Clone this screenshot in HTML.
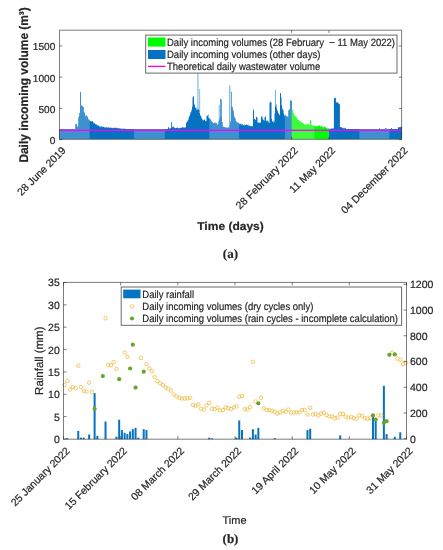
<!DOCTYPE html>
<html lang="en"><head><meta charset="utf-8"><title>Figure</title>
<style>html,body{margin:0;padding:0;background:#fff;}svg{display:block;}text{font-family:"Liberation Sans", Arial, Helvetica, sans-serif;fill:#262626;stroke:#262626;stroke-width:0.2px;text-rendering:geometricPrecision;}</style>
</head><body>
<svg width="443" height="550" viewBox="0 0 443 550">
<rect width="443" height="550" fill="#ffffff"/>
<g shape-rendering="auto">
<path d="M59.50 139.10V129.00 H60.00V129.00 H60.50V129.00 H61.00V129.00 H61.50V129.00 H62.00V129.00 H62.50V129.00 H63.00V129.00 H63.50V129.00 H64.00V129.00 H64.50V129.00 H65.00V129.00 H65.50V129.00 H66.00V129.00 H66.50V129.00 H67.00V129.00 H67.50V129.00 H68.00V129.00 H68.50V129.00 H69.00V129.00 H69.50V129.00 H70.00V129.00 H70.50V129.00 H71.00V129.00 H71.50V129.00 H72.00V129.00 H72.50V129.00 H73.00V129.00 H73.50V129.00 H74.00V129.00 H74.50V129.00 H75.00V129.00 H75.50V124.11 H76.00V123.73 H76.50V124.83 H77.00V126.45 H77.50V127.05 H78.00V126.83 H78.50V117.50 H79.00V116.30 H79.50V113.08 H80.00V92.85 H80.50V92.05 H81.00V105.45 H81.50V106.02 H82.00V106.74 H82.50V105.99 H83.00V107.12 H83.50V112.36 H84.00V113.23 H84.50V112.59 H85.00V115.39 H85.50V117.04 H86.00V115.37 H86.50V117.54 H87.00V116.67 H87.50V116.73 H88.00V119.22 H88.50V119.83 H89.00V121.14 H89.50V119.93 H90.00V121.01 H90.50V121.34 H91.00V121.09 H91.50V121.81 H92.00V121.07 H92.50V121.40 H93.00V122.05 H93.50V123.43 H94.00V123.21 H94.50V123.29 H95.00V124.21 H95.50V124.16 H96.00V124.07 H96.50V125.37 H97.00V125.39 H97.50V124.74 H98.00V125.61 H98.50V125.76 H99.00V126.58 H99.50V126.56 H100.00V126.12 H100.50V127.35 H101.00V126.31 H101.50V126.76 H102.00V127.25 H102.50V126.50 H103.00V126.98 H103.50V126.45 H104.00V127.29 H104.50V127.45 H105.00V127.25 H105.50V127.66 H106.00V127.03 H106.50V127.52 H107.00V127.45 H107.50V127.47 H108.00V127.37 H108.50V127.84 H109.00V127.99 H109.50V127.52 H110.00V127.76 H110.50V127.17 H111.00V127.88 H111.50V127.87 H112.00V128.25 H112.50V128.12 H113.00V127.63 H113.50V127.77 H114.00V128.09 H114.50V127.53 H115.00V127.98 H115.50V127.75 H116.00V127.76 H116.50V127.75 H117.00V128.41 H117.50V127.91 H118.00V128.06 H118.50V128.22 H119.00V128.64 H119.50V128.06 H120.00V128.39 H120.50V128.51 H121.00V128.79 H121.50V128.79 H122.00V128.85 H122.50V128.49 H123.00V128.63 H123.50V128.73 H124.00V128.77 H124.50V128.81 H125.00V128.85 H125.50V128.89 H126.00V128.94 H126.50V128.98 H127.00V129.00 H127.50V129.00 H128.00V129.00 H128.50V129.00 H129.00V129.00 H129.50V129.00 H130.00V129.00 H130.50V129.00 H131.00V129.00 H131.50V129.00 H132.00V129.00 H132.50V129.00 H133.00V129.00 H133.50V129.00 H134.00V129.00 H134.50V129.00 H135.00V129.00 H135.50V129.00 H136.00V129.00 H136.50V129.00 H137.00V129.00 H137.50V129.00 H138.00V129.00 H138.50V129.00 H139.00V129.00 H139.50V129.00 H140.00V129.00 H140.50V129.00 H141.00V129.00 H141.50V129.00 H142.00V129.00 H142.50V129.00 H143.00V129.00 H143.50V129.00 H144.00V129.00 H144.50V129.00 H145.00V129.00 H145.50V129.00 H146.00V129.00 H146.50V129.00 H147.00V129.00 H147.50V129.00 H148.00V129.00 H148.50V129.00 H149.00V129.00 H149.50V129.00 H150.00V129.00 H150.50V129.00 H151.00V129.00 H151.50V129.00 H152.00V129.00 H152.50V129.00 H153.00V129.00 H153.50V129.00 H154.00V129.00 H154.50V129.00 H155.00V129.00 H155.50V129.00 H156.00V129.00 H156.50V129.00 H157.00V129.00 H157.50V129.00 H158.00V129.00 H158.50V129.00 H159.00V129.00 H159.50V129.00 H160.00V129.00 H160.50V129.00 H161.00V129.00 H161.50V129.00 H162.00V129.00 H162.50V129.00 H163.00V129.00 H163.50V129.00 H164.00V129.00 H164.50V129.00 H165.00V129.00 H165.50V129.00 H166.00V129.00 H166.50V129.00 H167.00V129.00 H167.50V129.00 H168.00V126.82 H168.50V127.49 H169.00V128.75 H169.50V128.13 H170.00V128.15 H170.50V128.19 H171.00V121.91 H171.50V122.47 H172.00V127.11 H172.50V126.70 H173.00V126.36 H173.50V127.31 H174.00V127.67 H174.50V127.87 H175.00V128.25 H175.50V127.99 H176.00V127.82 H176.50V127.92 H177.00V127.97 H177.50V127.36 H178.00V128.20 H178.50V128.08 H179.00V128.17 H179.50V128.09 H180.00V127.69 H180.50V127.70 H181.00V127.41 H181.50V127.93 H182.00V127.37 H182.50V127.37 H183.00V127.51 H183.50V127.47 H184.00V127.64 H184.50V127.36 H185.00V127.31 H185.50V127.45 H186.00V122.82 H186.50V122.40 H187.00V120.66 H187.50V121.52 H188.00V119.95 H188.50V117.64 H189.00V116.55 H189.50V115.44 H190.00V114.16 H190.50V111.96 H191.00V111.53 H191.50V109.82 H192.00V106.63 H192.50V97.46 H193.00V96.59 H193.50V96.62 H194.00V103.73 H194.50V105.13 H195.00V107.94 H195.50V107.46 H196.00V107.58 H196.50V110.03 H197.00V109.52 H197.50V108.84 H198.00V109.83 H198.50V108.82 H199.00V110.05 H199.50V112.95 H200.00V114.76 H200.50V116.00 H201.00V116.66 H201.50V118.50 H202.00V118.91 H202.50V120.33 H203.00V119.89 H203.50V120.53 H204.00V119.63 H204.50V119.48 H205.00V120.86 H205.50V121.33 H206.00V121.13 H206.50V115.67 H207.00V115.70 H207.50V115.53 H208.00V114.40 H208.50V118.11 H209.00V118.47 H209.50V118.46 H210.00V119.18 H210.50V120.44 H211.00V120.70 H211.50V121.91 H212.00V122.75 H212.50V121.89 H213.00V123.22 H213.50V123.59 H214.00V123.77 H214.50V122.73 H215.00V122.67 H215.50V122.94 H216.00V123.13 H216.50V123.41 H217.00V124.59 H217.50V125.44 H218.00V124.46 H218.50V121.70 H219.00V120.11 H219.50V118.66 H220.00V117.09 H220.50V98.85 H221.00V99.40 H221.50V116.22 H222.00V122.15 H222.50V126.98 H223.00V126.69 H223.50V127.52 H224.00V127.05 H224.50V127.68 H225.00V127.94 H225.50V127.37 H226.00V127.46 H226.50V128.11 H227.00V127.95 H227.50V127.48 H228.00V127.52 H228.50V127.64 H229.00V127.38 H229.50V125.17 H230.00V121.39 H230.50V121.72 H231.00V107.21 H231.50V91.65 H232.00V106.84 H232.50V109.51 H233.00V110.83 H233.50V112.81 H234.00V116.79 H234.50V117.58 H235.00V118.81 H235.50V121.20 H236.00V121.60 H236.50V123.06 H237.00V123.34 H237.50V122.36 H238.00V122.83 H238.50V123.30 H239.00V123.54 H239.50V124.36 H240.00V123.70 H240.50V124.11 H241.00V123.54 H241.50V125.32 H242.00V124.15 H242.50V124.45 H243.00V124.78 H243.50V125.53 H244.00V124.55 H244.50V125.66 H245.00V124.85 H245.50V124.98 H246.00V125.07 H246.50V124.19 H247.00V125.14 H247.50V124.77 H248.00V124.57 H248.50V126.13 H249.00V125.13 H249.50V125.77 H250.00V126.31 H250.50V126.14 H251.00V125.88 H251.50V126.30 H252.00V126.47 H252.50V125.85 H253.00V109.13 H253.50V110.13 H254.00V118.95 H254.50V119.01 H255.00V120.10 H255.50V119.52 H256.00V116.84 H256.50V117.27 H257.00V117.61 H257.50V122.38 H258.00V122.75 H258.50V122.51 H259.00V122.53 H259.50V122.92 H260.00V122.40 H260.50V122.57 H261.00V115.95 H261.50V116.97 H262.00V116.44 H262.50V119.29 H263.00V120.16 H263.50V119.38 H264.00V120.77 H264.50V117.48 H265.00V117.25 H265.50V115.70 H266.00V120.23 H266.50V121.15 H267.00V120.55 H267.50V121.14 H268.00V120.98 H268.50V122.51 H269.00V122.97 H269.50V102.87 H270.00V101.24 H270.50V102.48 H271.00V102.35 H271.50V119.03 H272.00V121.11 H272.50V121.76 H273.00V120.56 H273.50V122.63 H274.00V121.87 H274.50V113.72 H275.00V106.08 H275.50V105.73 H276.00V104.26 H276.50V108.33 H277.00V110.13 H277.50V111.35 H278.00V112.65 H278.50V113.78 H279.00V115.20 H279.50V114.19 H280.00V93.32 H280.50V93.07 H281.00V97.34 H281.50V105.13 H282.00V107.88 H282.50V109.67 H283.00V110.10 H283.50V113.53 H284.00V114.51 H284.50V116.33 H285.00V115.27 H285.50V115.91 H286.00V115.70 H286.50V117.61 H287.00V116.78 H287.50V116.76 H288.00V117.69 H288.50V110.41 H289.00V110.20 H289.50V108.97 H290.00V99.93 H290.50V101.62 H291.00V100.86 H291.50V101.14 H291.70V139.10 Z" fill="#0672c2"/>
<path d="M291.70 139.10V109.00 H292.20V110.14 H292.70V112.74 H293.20V113.37 H293.70V113.46 H294.20V116.08 H294.70V116.13 H295.20V117.22 H295.70V116.35 H296.20V118.65 H296.70V117.52 H297.20V119.89 H297.70V119.59 H298.20V119.91 H298.70V120.90 H299.20V122.25 H299.70V121.32 H300.20V121.52 H300.70V122.77 H301.20V122.50 H301.70V122.59 H302.20V123.07 H302.70V123.13 H303.20V123.70 H303.70V124.19 H304.20V124.43 H304.70V125.59 H305.20V124.68 H305.70V125.10 H306.20V124.46 H306.70V124.80 H307.20V124.15 H307.70V124.61 H308.20V124.14 H308.70V125.56 H309.20V125.20 H309.70V124.49 H310.20V119.94 H310.70V120.96 H311.20V125.01 H311.70V126.26 H312.20V125.58 H312.70V125.69 H313.20V126.29 H313.70V125.51 H314.20V125.71 H314.70V126.03 H315.20V126.59 H315.70V125.53 H316.20V126.42 H316.70V126.25 H317.20V126.18 H317.70V125.85 H318.20V125.82 H318.70V125.40 H319.20V125.58 H319.70V125.55 H320.20V126.65 H320.70V125.99 H321.20V125.99 H321.70V126.01 H322.20V127.20 H322.70V127.35 H323.20V127.19 H323.70V126.82 H324.20V126.91 H324.70V127.10 H325.20V127.43 H325.70V127.26 H326.20V127.72 H326.70V127.70 H327.20V128.48 H327.70V128.61 H328.20V128.40 H328.70V128.28 H328.90V139.10 Z" fill="#00fc00"/>
<path d="M328.90 139.10V128.78 H329.40V128.75 H329.90V128.72 H330.40V129.00 H330.90V128.53 H331.40V128.53 H331.90V128.25 H332.40V128.48 H332.90V128.52 H333.40V128.51 H333.90V97.94 H334.40V98.61 H334.90V97.51 H335.40V98.08 H335.90V101.85 H336.40V102.75 H336.90V102.18 H337.40V102.36 H337.90V103.19 H338.40V103.25 H338.90V104.25 H339.40V104.34 H339.90V127.14 H340.40V127.01 H340.90V127.09 H341.40V127.31 H341.90V127.90 H342.40V127.84 H342.90V128.44 H343.40V127.68 H343.90V128.21 H344.40V128.13 H344.90V127.58 H345.40V128.31 H345.90V129.10 H346.40V129.10 H346.90V129.10 H347.40V129.10 H347.90V129.10 H348.40V129.10 H348.90V129.10 H349.40V129.10 H349.90V129.10 H350.40V129.10 H350.90V129.10 H351.40V129.10 H351.90V129.10 H352.40V129.10 H352.90V129.10 H353.40V129.10 H353.90V129.10 H354.40V129.10 H354.90V129.10 H355.40V129.10 H355.90V129.10 H356.40V129.10 H356.90V129.10 H357.40V129.10 H357.90V129.10 H358.40V129.10 H358.90V129.10 H359.40V129.10 H359.90V129.10 H360.40V129.10 H360.90V129.10 H361.40V129.10 H361.90V129.10 H362.40V129.10 H362.90V129.10 H363.40V129.10 H363.90V129.10 H364.40V129.10 H364.90V129.10 H365.40V129.10 H365.90V129.10 H366.40V129.10 H366.90V129.10 H367.40V129.10 H367.90V129.10 H368.40V129.10 H368.90V129.10 H369.40V129.10 H369.90V129.10 H370.40V129.10 H370.90V129.10 H371.40V129.10 H371.90V129.10 H372.40V129.10 H372.90V129.10 H373.40V129.10 H373.90V129.10 H374.40V129.10 H374.90V129.10 H375.40V129.10 H375.90V129.10 H376.40V129.10 H376.90V129.10 H377.40V129.10 H377.90V129.10 H378.40V129.10 H378.90V128.70 H379.40V128.50 H379.90V129.10 H380.40V129.10 H380.90V129.10 H381.40V129.10 H381.90V129.10 H382.40V129.10 H382.90V129.10 H383.40V129.10 H383.90V129.10 H384.40V129.10 H384.90V128.40 H385.40V128.46 H385.90V127.90 H386.40V129.10 H386.90V129.10 H387.40V129.10 H387.90V129.10 H388.40V129.10 H388.90V129.10 H389.40V129.10 H389.90V129.10 H390.40V129.10 H390.90V128.02 H391.40V128.00 H391.90V129.10 H392.40V129.10 H392.90V129.10 H393.40V129.10 H393.90V129.10 H394.40V129.10 H394.90V129.10 H395.40V129.10 H395.90V129.10 H396.40V129.10 H396.90V129.10 H397.40V129.10 H397.90V127.40 H398.40V127.31 H398.90V127.28 H399.40V126.90 H399.90V127.27 H400.40V126.92 H400.90V126.88 H401.40V126.15 H401.90V125.82 H402.00V139.10 Z" fill="#0672c2"/>
<path d="M59.50 139.10V129.00 H60.00V129.00 H60.50V129.00 H61.00V129.00 H61.50V129.00 H62.00V129.00 H62.50V129.00 H63.00V129.00 H63.50V129.00 H64.00V129.00 H64.50V129.00 H65.00V129.00 H65.50V129.00 H66.00V129.00 H66.50V129.00 H67.00V129.00 H67.50V129.00 H68.00V129.00 H68.50V129.00 H69.00V129.00 H69.50V129.00 H70.00V129.00 H70.50V129.00 H71.00V129.00 H71.50V129.00 H72.00V129.00 H72.50V129.00 H73.00V129.00 H73.50V129.00 H74.00V129.00 H74.50V129.00 H75.00V129.00 H75.50V124.11 H76.00V123.73 H76.50V124.83 H77.00V126.45 H77.50V127.05 H78.00V126.83 H78.50V117.50 H79.00V116.30 H79.50V113.08 H80.00V92.85 H80.50V92.05 H81.00V105.45 H81.50V106.02 H82.00V106.74 H82.50V105.99 H83.00V107.12 H83.50V112.36 H84.00V113.23 H84.50V112.59 H85.00V115.39 H85.50V117.04 H86.00V115.37 H86.50V117.54 H87.00V116.67 H87.50V116.73 H88.00V119.22 H88.50V119.83 H89.00V121.14 H89.50V119.93 H89.70V139.10 Z" fill="#3d91cf"/>
<path d="M134.10 139.10V129.00 H134.50V129.00 H135.00V129.00 H135.50V129.00 H136.00V129.00 H136.50V129.00 H137.00V129.00 H137.50V129.00 H138.00V129.00 H138.50V129.00 H139.00V129.00 H139.50V129.00 H140.00V129.00 H140.50V129.00 H141.00V129.00 H141.50V129.00 H142.00V129.00 H142.50V129.00 H143.00V129.00 H143.50V129.00 H144.00V129.00 H144.50V129.00 H145.00V129.00 H145.50V129.00 H146.00V129.00 H146.50V129.00 H147.00V129.00 H147.50V129.00 H148.00V129.00 H148.50V129.00 H149.00V129.00 H149.50V129.00 H150.00V129.00 H150.50V129.00 H151.00V129.00 H151.50V129.00 H152.00V129.00 H152.50V129.00 H153.00V129.00 H153.50V129.00 H154.00V129.00 H154.50V129.00 H155.00V129.00 H155.50V129.00 H156.00V129.00 H156.50V129.00 H157.00V129.00 H157.50V129.00 H158.00V129.00 H158.50V129.00 H159.00V129.00 H159.50V129.00 H160.00V129.00 H160.50V129.00 H161.00V129.00 H161.50V129.00 H162.00V129.00 H162.50V129.00 H163.00V129.00 H163.50V129.00 H164.00V129.00 H164.50V129.00 H164.80V139.10 Z" fill="#3d91cf"/>
<path d="M209.30 139.10V118.47 H209.50V118.46 H210.00V119.18 H210.50V120.44 H211.00V120.70 H211.50V121.91 H212.00V122.75 H212.50V121.89 H213.00V123.22 H213.50V123.59 H214.00V123.77 H214.50V122.73 H215.00V122.67 H215.50V122.94 H216.00V123.13 H216.50V123.41 H217.00V124.59 H217.50V125.44 H218.00V124.46 H218.50V121.70 H219.00V120.11 H219.50V118.66 H220.00V117.09 H220.50V98.85 H221.00V99.40 H221.50V116.22 H222.00V122.15 H222.50V126.98 H223.00V126.69 H223.50V127.52 H224.00V127.05 H224.50V127.68 H225.00V127.94 H225.50V127.37 H226.00V127.46 H226.50V128.11 H227.00V127.95 H227.50V127.48 H228.00V127.52 H228.50V127.64 H229.00V127.38 H229.50V125.17 H230.00V121.39 H230.50V121.72 H231.00V107.21 H231.50V91.65 H232.00V106.84 H232.50V109.51 H233.00V110.83 H233.50V112.81 H234.00V116.79 H234.50V117.58 H235.00V118.81 H235.50V121.20 H236.00V121.60 H236.50V123.06 H237.00V123.34 H237.50V122.36 H238.00V122.83 H238.50V123.30 H239.00V123.54 H239.10V139.10 Z" fill="#3d91cf"/>
<path d="M284.90 139.10V116.33 H285.00V115.27 H285.50V115.91 H286.00V115.70 H286.50V117.61 H287.00V116.78 H287.50V116.76 H288.00V117.69 H288.50V110.41 H289.00V110.20 H289.50V108.97 H290.00V99.93 H290.50V101.62 H291.00V100.86 H291.50V101.14 H291.70V139.10 Z" fill="#3d91cf"/>
<path d="M291.70 139.10V109.00 H292.20V110.14 H292.70V112.74 H293.20V113.37 H293.70V113.46 H294.20V116.08 H294.70V116.13 H295.20V117.22 H295.70V116.35 H296.20V118.65 H296.70V117.52 H297.20V119.89 H297.70V119.59 H298.20V119.91 H298.70V120.90 H299.20V122.25 H299.70V121.32 H300.20V121.52 H300.70V122.77 H301.20V122.50 H301.70V122.59 H302.20V123.07 H302.70V123.13 H303.20V123.70 H303.70V124.19 H304.20V124.43 H304.70V125.59 H305.20V124.68 H305.70V125.10 H306.20V124.46 H306.70V124.80 H307.20V124.15 H307.70V124.61 H308.20V124.14 H308.70V125.56 H309.20V125.20 H309.70V124.49 H310.20V119.94 H310.70V120.96 H311.20V125.01 H311.70V126.26 H312.20V125.58 H312.70V125.69 H313.20V126.29 H313.70V125.51 H314.20V125.71 H314.50V139.10 Z" fill="#3dfb3d"/>
<path d="M359.40 139.10V129.10 H359.90V129.10 H360.40V129.10 H360.90V129.10 H361.40V129.10 H361.90V129.10 H362.40V129.10 H362.90V129.10 H363.40V129.10 H363.90V129.10 H364.40V129.10 H364.90V129.10 H365.40V129.10 H365.90V129.10 H366.40V129.10 H366.90V129.10 H367.40V129.10 H367.90V129.10 H368.40V129.10 H368.90V129.10 H369.40V129.10 H369.90V129.10 H370.40V129.10 H370.90V129.10 H371.40V129.10 H371.90V129.10 H372.40V129.10 H372.90V129.10 H373.40V129.10 H373.90V129.10 H374.40V129.10 H374.90V129.10 H375.40V129.10 H375.90V129.10 H376.40V129.10 H376.90V129.10 H377.40V129.10 H377.90V129.10 H378.40V129.10 H378.90V128.70 H379.40V128.50 H379.90V129.10 H380.40V129.10 H380.90V129.10 H381.40V129.10 H381.90V129.10 H382.40V129.10 H382.90V129.10 H383.40V129.10 H383.90V129.10 H384.40V129.10 H384.90V128.40 H385.40V128.46 H385.90V127.90 H386.40V129.10 H386.90V129.10 H387.40V129.10 H387.90V129.10 H388.40V129.10 H388.90V129.10 H389.40V129.10 H389.50V139.10 Z" fill="#3d91cf"/>
<rect x="197.50" y="72.00" width="0.90" height="38.00" fill="#5ba3d6"/>
<rect x="199.40" y="89.00" width="0.70" height="23.00" fill="#5ba3d6"/>
<rect x="218.80" y="105.00" width="0.80" height="15.00" fill="#5ba3d6"/>
<rect x="229.30" y="85.50" width="1.00" height="42.50" fill="#5ba3d6"/>
<rect x="275.20" y="89.80" width="0.80" height="16.20" fill="#5ba3d6"/>
<rect x="171.10" y="122.50" width="0.60" height="5.50" fill="#5ba3d6"/>
</g>
<rect x="59.50" y="129.7" width="342.10" height="1.3" fill="#ff00ff"/>
<g stroke="rgba(38,38,38,0.6)" stroke-width="1" fill="none">
<rect x="59.5" y="30.2" width="342.1" height="109.2"/>
<path d="M59.5 139.60h2.7M401.6 139.60h-2.7"/>
<path d="M59.5 108.38h2.7M401.6 108.38h-2.7"/>
<path d="M59.5 77.15h2.7M401.6 77.15h-2.7"/>
<path d="M59.5 45.92h2.7M401.6 45.92h-2.7"/>
<path d="M291.70 139.5v-2.7M291.70 30.2v2.7"/>
<path d="M329.00 139.5v-2.7M329.00 30.2v2.7"/>
</g>
<text x="55.3" y="144.00" font-size="10.1" text-anchor="end">0</text>
<text x="55.3" y="112.78" font-size="10.1" text-anchor="end">500</text>
<text x="55.3" y="81.55" font-size="10.1" text-anchor="end">1000</text>
<text x="55.3" y="50.32" font-size="10.1" text-anchor="end">1500</text>
<text transform="translate(66.50 151.20) rotate(-45)" font-size="10.5" text-anchor="end">28 June 2019</text>
<text transform="translate(298.70 151.20) rotate(-45)" font-size="10.5" text-anchor="end">28 February 2022</text>
<text transform="translate(336.00 151.20) rotate(-45)" font-size="10.5" text-anchor="end">11 May 2022</text>
<text transform="translate(408.50 151.20) rotate(-45)" font-size="10.5" text-anchor="end">04 December 2022</text>
<text transform="translate(27.7 84.9) rotate(-90) scale(0.952 1)" font-size="12.5" font-weight="bold" stroke="#fff" stroke-width="0.4" text-anchor="middle">Daily incoming volume (m³)</text>
<text transform="translate(230.5 230.0) scale(1.05 1)" font-size="11.45" font-weight="bold" stroke="#fff" stroke-width="0.4" text-anchor="middle">Time (days)</text>
<text x="230.4" y="258.0" font-size="13" font-weight="bold" text-anchor="middle" style="font-family:'Liberation Serif', 'Times New Roman', serif" fill="#000">(a)</text>
<rect x="145.7" y="35.1" width="251.3" height="38.0" fill="#fff" stroke="#6a6a6a" stroke-width="1"/>
<rect x="148.0" y="37.5" width="17.5" height="9.1" fill="#00fc00"/>
<rect x="148.0" y="50.0" width="17.5" height="9.0" fill="#0672c2"/>
<rect x="148.0" y="65.7" width="17.5" height="1.3" fill="#ff00ff"/>
<text transform="translate(167.0 45.70) scale(0.906 1)" font-size="10.5" fill="#000" stroke="#000" xml:space="preserve">Daily incoming volumes (28 February  − 11 May 2022)</text>
<text transform="translate(167.0 57.85) scale(0.906 1)" font-size="10.5" fill="#000" stroke="#000" xml:space="preserve">Daily incoming volumes (other days)</text>
<text transform="translate(167.0 70.00) scale(0.906 1)" font-size="10.5" fill="#000" stroke="#000" xml:space="preserve">Theoretical daily wastewater volume</text>
<rect x="66.32" y="438.11" width="2.0" height="1.09" fill="#0672c2"/>
<rect x="77.24" y="430.95" width="2.0" height="8.25" fill="#0672c2"/>
<rect x="79.97" y="437.66" width="2.0" height="1.54" fill="#0672c2"/>
<rect x="82.69" y="437.66" width="2.0" height="1.54" fill="#0672c2"/>
<rect x="88.15" y="434.53" width="2.0" height="4.67" fill="#0672c2"/>
<rect x="93.61" y="393.17" width="2.0" height="46.03" fill="#0672c2"/>
<rect x="96.34" y="435.87" width="2.0" height="3.33" fill="#0672c2"/>
<rect x="104.53" y="421.56" width="2.0" height="17.64" fill="#0672c2"/>
<rect x="115.44" y="436.76" width="2.0" height="2.44" fill="#0672c2"/>
<rect x="118.17" y="419.77" width="2.0" height="19.43" fill="#0672c2"/>
<rect x="120.90" y="430.06" width="2.0" height="9.14" fill="#0672c2"/>
<rect x="123.63" y="432.74" width="2.0" height="6.46" fill="#0672c2"/>
<rect x="126.36" y="434.08" width="2.0" height="5.12" fill="#0672c2"/>
<rect x="129.09" y="431.40" width="2.0" height="7.80" fill="#0672c2"/>
<rect x="131.82" y="429.16" width="2.0" height="10.04" fill="#0672c2"/>
<rect x="134.55" y="427.82" width="2.0" height="11.38" fill="#0672c2"/>
<rect x="137.27" y="437.66" width="2.0" height="1.54" fill="#0672c2"/>
<rect x="142.73" y="429.16" width="2.0" height="10.04" fill="#0672c2"/>
<rect x="145.46" y="430.06" width="2.0" height="9.14" fill="#0672c2"/>
<rect x="208.23" y="437.66" width="2.0" height="1.54" fill="#0672c2"/>
<rect x="210.96" y="438.33" width="2.0" height="0.87" fill="#0672c2"/>
<rect x="235.52" y="437.66" width="2.0" height="1.54" fill="#0672c2"/>
<rect x="238.25" y="420.44" width="2.0" height="18.76" fill="#0672c2"/>
<rect x="240.98" y="430.06" width="2.0" height="9.14" fill="#0672c2"/>
<rect x="249.16" y="437.66" width="2.0" height="1.54" fill="#0672c2"/>
<rect x="251.89" y="429.16" width="2.0" height="10.04" fill="#0672c2"/>
<rect x="254.62" y="434.53" width="2.0" height="4.67" fill="#0672c2"/>
<rect x="257.35" y="427.82" width="2.0" height="11.38" fill="#0672c2"/>
<rect x="273.72" y="438.11" width="2.0" height="1.09" fill="#0672c2"/>
<rect x="306.47" y="430.06" width="2.0" height="9.14" fill="#0672c2"/>
<rect x="309.20" y="428.72" width="2.0" height="10.48" fill="#0672c2"/>
<rect x="339.22" y="435.42" width="2.0" height="3.78" fill="#0672c2"/>
<rect x="371.97" y="416.64" width="2.0" height="22.56" fill="#0672c2"/>
<rect x="374.70" y="420.67" width="2.0" height="18.53" fill="#0672c2"/>
<rect x="382.88" y="385.79" width="2.0" height="53.41" fill="#0672c2"/>
<rect x="385.61" y="434.08" width="2.0" height="5.12" fill="#0672c2"/>
<rect x="393.80" y="436.76" width="2.0" height="2.44" fill="#0672c2"/>
<rect x="399.26" y="432.29" width="2.0" height="6.91" fill="#0672c2"/>
<g fill="none" stroke="#edb83a" stroke-width="0.75">
<circle cx="64.59" cy="385.00" r="1.75"/>
<circle cx="67.32" cy="380.90" r="1.75"/>
<circle cx="70.05" cy="389.60" r="1.75"/>
<circle cx="72.78" cy="387.00" r="1.75"/>
<circle cx="75.51" cy="388.30" r="1.75"/>
<circle cx="78.24" cy="365.70" r="1.75"/>
<circle cx="80.97" cy="387.00" r="1.75"/>
<circle cx="83.69" cy="390.90" r="1.75"/>
<circle cx="86.42" cy="391.60" r="1.75"/>
<circle cx="89.15" cy="382.70" r="1.75"/>
<circle cx="91.88" cy="392.10" r="1.75"/>
<circle cx="105.53" cy="318.30" r="1.75"/>
<circle cx="108.26" cy="364.90" r="1.75"/>
<circle cx="110.98" cy="365.20" r="1.75"/>
<circle cx="113.71" cy="362.10" r="1.75"/>
<circle cx="116.44" cy="369.00" r="1.75"/>
<circle cx="124.63" cy="352.50" r="1.75"/>
<circle cx="127.36" cy="356.80" r="1.75"/>
<circle cx="141.00" cy="358.00" r="1.75"/>
<circle cx="146.46" cy="364.10" r="1.75"/>
<circle cx="149.19" cy="368.40" r="1.75"/>
<circle cx="151.92" cy="371.30" r="1.75"/>
<circle cx="154.65" cy="377.20" r="1.75"/>
<circle cx="157.38" cy="381.10" r="1.75"/>
<circle cx="160.11" cy="383.30" r="1.75"/>
<circle cx="162.84" cy="385.00" r="1.75"/>
<circle cx="165.56" cy="387.60" r="1.75"/>
<circle cx="168.29" cy="388.70" r="1.75"/>
<circle cx="171.02" cy="390.50" r="1.75"/>
<circle cx="173.75" cy="394.60" r="1.75"/>
<circle cx="176.48" cy="396.40" r="1.75"/>
<circle cx="179.21" cy="397.70" r="1.75"/>
<circle cx="181.94" cy="398.50" r="1.75"/>
<circle cx="184.67" cy="398.50" r="1.75"/>
<circle cx="187.40" cy="398.30" r="1.75"/>
<circle cx="190.13" cy="397.80" r="1.75"/>
<circle cx="192.85" cy="404.90" r="1.75"/>
<circle cx="195.58" cy="405.80" r="1.75"/>
<circle cx="198.31" cy="404.50" r="1.75"/>
<circle cx="201.04" cy="408.70" r="1.75"/>
<circle cx="203.77" cy="409.50" r="1.75"/>
<circle cx="206.50" cy="405.50" r="1.75"/>
<circle cx="209.23" cy="402.70" r="1.75"/>
<circle cx="211.96" cy="408.70" r="1.75"/>
<circle cx="214.69" cy="409.10" r="1.75"/>
<circle cx="217.42" cy="407.60" r="1.75"/>
<circle cx="220.14" cy="410.50" r="1.75"/>
<circle cx="222.87" cy="410.00" r="1.75"/>
<circle cx="225.60" cy="407.30" r="1.75"/>
<circle cx="228.33" cy="408.20" r="1.75"/>
<circle cx="231.06" cy="409.10" r="1.75"/>
<circle cx="233.79" cy="407.30" r="1.75"/>
<circle cx="236.52" cy="406.40" r="1.75"/>
<circle cx="239.25" cy="396.70" r="1.75"/>
<circle cx="241.98" cy="396.00" r="1.75"/>
<circle cx="244.71" cy="409.10" r="1.75"/>
<circle cx="247.43" cy="409.50" r="1.75"/>
<circle cx="250.16" cy="407.10" r="1.75"/>
<circle cx="252.89" cy="361.80" r="1.75"/>
<circle cx="255.62" cy="401.50" r="1.75"/>
<circle cx="261.08" cy="397.80" r="1.75"/>
<circle cx="263.81" cy="408.20" r="1.75"/>
<circle cx="266.54" cy="410.00" r="1.75"/>
<circle cx="269.27" cy="410.00" r="1.75"/>
<circle cx="272.00" cy="410.90" r="1.75"/>
<circle cx="274.72" cy="411.80" r="1.75"/>
<circle cx="277.45" cy="413.60" r="1.75"/>
<circle cx="280.18" cy="412.40" r="1.75"/>
<circle cx="282.91" cy="410.90" r="1.75"/>
<circle cx="285.64" cy="411.80" r="1.75"/>
<circle cx="288.37" cy="409.50" r="1.75"/>
<circle cx="291.10" cy="412.70" r="1.75"/>
<circle cx="293.83" cy="412.40" r="1.75"/>
<circle cx="296.56" cy="412.40" r="1.75"/>
<circle cx="299.29" cy="412.40" r="1.75"/>
<circle cx="302.01" cy="410.00" r="1.75"/>
<circle cx="304.74" cy="410.00" r="1.75"/>
<circle cx="307.47" cy="414.50" r="1.75"/>
<circle cx="310.20" cy="407.80" r="1.75"/>
<circle cx="312.93" cy="414.50" r="1.75"/>
<circle cx="315.66" cy="414.20" r="1.75"/>
<circle cx="318.39" cy="415.50" r="1.75"/>
<circle cx="321.12" cy="413.60" r="1.75"/>
<circle cx="323.85" cy="412.70" r="1.75"/>
<circle cx="326.58" cy="415.20" r="1.75"/>
<circle cx="329.30" cy="416.50" r="1.75"/>
<circle cx="332.03" cy="416.40" r="1.75"/>
<circle cx="334.76" cy="418.30" r="1.75"/>
<circle cx="337.49" cy="417.70" r="1.75"/>
<circle cx="340.22" cy="413.90" r="1.75"/>
<circle cx="342.95" cy="413.90" r="1.75"/>
<circle cx="345.68" cy="416.70" r="1.75"/>
<circle cx="348.41" cy="417.70" r="1.75"/>
<circle cx="351.14" cy="416.70" r="1.75"/>
<circle cx="353.87" cy="418.30" r="1.75"/>
<circle cx="356.59" cy="418.70" r="1.75"/>
<circle cx="359.32" cy="415.40" r="1.75"/>
<circle cx="362.05" cy="415.80" r="1.75"/>
<circle cx="364.78" cy="418.30" r="1.75"/>
<circle cx="367.51" cy="418.70" r="1.75"/>
<circle cx="370.24" cy="417.70" r="1.75"/>
<circle cx="378.43" cy="415.40" r="1.75"/>
<circle cx="381.16" cy="415.40" r="1.75"/>
<circle cx="392.07" cy="352.50" r="1.75"/>
<circle cx="397.53" cy="358.60" r="1.75"/>
<circle cx="400.26" cy="359.80" r="1.75"/>
<circle cx="402.99" cy="364.00" r="1.75"/>
<circle cx="405.72" cy="363.00" r="1.75"/>
</g>
<g fill="#68a52d">
<circle cx="94.61" cy="408.90" r="2.1"/>
<circle cx="102.80" cy="376.10" r="2.1"/>
<circle cx="119.17" cy="379.20" r="2.1"/>
<circle cx="130.09" cy="368.50" r="2.1"/>
<circle cx="132.82" cy="344.70" r="2.1"/>
<circle cx="135.55" cy="387.60" r="2.1"/>
<circle cx="143.73" cy="371.70" r="2.1"/>
<circle cx="258.35" cy="403.30" r="2.1"/>
<circle cx="372.97" cy="415.40" r="2.1"/>
<circle cx="375.70" cy="419.60" r="2.1"/>
<circle cx="383.88" cy="422.90" r="2.1"/>
<circle cx="386.61" cy="421.20" r="2.1"/>
<circle cx="389.34" cy="354.80" r="2.1"/>
<circle cx="394.80" cy="354.40" r="2.1"/>
</g>
<g stroke="rgba(38,38,38,0.6)" stroke-width="1" fill="none">
<rect x="63.5" y="282.4" width="343.0" height="156.8"/>
<path d="M63.5 439.00h3"/>
<path d="M63.5 416.64h3"/>
<path d="M63.5 394.29h3"/>
<path d="M63.5 371.93h3"/>
<path d="M63.5 349.57h3"/>
<path d="M63.5 327.21h3"/>
<path d="M63.5 304.86h3"/>
<path d="M63.5 282.50h3"/>
<path d="M406.5 438.70h-3"/>
<path d="M406.5 412.97h-3"/>
<path d="M406.5 387.24h-3"/>
<path d="M406.5 361.51h-3"/>
<path d="M406.5 335.78h-3"/>
<path d="M406.5 310.05h-3"/>
<path d="M406.5 284.32h-3"/>
<path d="M63.50 439.2v-3M63.50 282.4v3"/>
<path d="M120.67 439.2v-3M120.67 282.4v3"/>
<path d="M177.83 439.2v-3M177.83 282.4v3"/>
<path d="M235.00 439.2v-3M235.00 282.4v3"/>
<path d="M292.17 439.2v-3M292.17 282.4v3"/>
<path d="M349.33 439.2v-3M349.33 282.4v3"/>
<path d="M406.50 439.2v-3M406.50 282.4v3"/>
</g>
<text x="59.8" y="442.95" font-size="10.5" text-anchor="end">0</text>
<text x="59.8" y="420.59" font-size="10.5" text-anchor="end">5</text>
<text x="59.8" y="398.24" font-size="10.5" text-anchor="end">10</text>
<text x="59.8" y="375.88" font-size="10.5" text-anchor="end">15</text>
<text x="59.8" y="353.52" font-size="10.5" text-anchor="end">20</text>
<text x="59.8" y="331.16" font-size="10.5" text-anchor="end">25</text>
<text x="59.8" y="308.81" font-size="10.5" text-anchor="end">30</text>
<text x="59.8" y="286.45" font-size="10.5" text-anchor="end">35</text>
<text x="410.0" y="442.50" font-size="10.5">0</text>
<text x="410.0" y="416.77" font-size="10.5">200</text>
<text x="410.0" y="391.04" font-size="10.5">400</text>
<text x="410.0" y="365.31" font-size="10.5">600</text>
<text x="410.0" y="339.58" font-size="10.5">800</text>
<text x="410.0" y="313.85" font-size="10.5">1000</text>
<text x="410.0" y="288.12" font-size="10.5">1200</text>
<text transform="translate(70.50 451.50) rotate(-45)" font-size="10.5" text-anchor="end">25 January 2022</text>
<text transform="translate(127.67 451.50) rotate(-45)" font-size="10.5" text-anchor="end">15 February 2022</text>
<text transform="translate(184.83 451.50) rotate(-45)" font-size="10.5" text-anchor="end">08 March 2022</text>
<text transform="translate(242.00 451.50) rotate(-45)" font-size="10.5" text-anchor="end">29 March 2022</text>
<text transform="translate(299.17 451.50) rotate(-45)" font-size="10.5" text-anchor="end">19 April 2022</text>
<text transform="translate(356.33 451.50) rotate(-45)" font-size="10.5" text-anchor="end">10 May 2022</text>
<text transform="translate(413.50 451.50) rotate(-45)" font-size="10.5" text-anchor="end">31 May 2022</text>
<text transform="translate(43.0 360.7) rotate(-90)" font-size="11.5" text-anchor="middle">Rainfall (mm)</text>
<text x="234.5" y="524.2" font-size="11" text-anchor="middle">Time</text>
<text x="230.5" y="543.2" font-size="13" font-weight="bold" text-anchor="middle" style="font-family:'Liberation Serif', 'Times New Roman', serif" fill="#000">(b)</text>
<rect x="121.2" y="287.0" width="280.4" height="38.3" fill="#fff" stroke="#6a6a6a" stroke-width="1"/>
<rect x="123.2" y="289.6" width="17.3" height="8.7" fill="#0672c2"/>
<circle cx="132" cy="306.4" r="1.75" fill="none" stroke="#edb83a" stroke-width="0.75"/>
<circle cx="132" cy="318.5" r="2.1" fill="#68a52d"/>
<text transform="translate(142.3 297.70) scale(0.905 1)" font-size="10.5" fill="#000" stroke="#000">Daily rainfall</text>
<text transform="translate(142.3 309.75) scale(0.905 1)" font-size="10.5" fill="#000" stroke="#000">Daily incoming volumes (dry cycles only)</text>
<text transform="translate(142.3 321.80) scale(0.905 1)" font-size="10.5" fill="#000" stroke="#000">Daily incoming volumes (rain cycles - incomplete calculation)</text>
</svg></body></html>
